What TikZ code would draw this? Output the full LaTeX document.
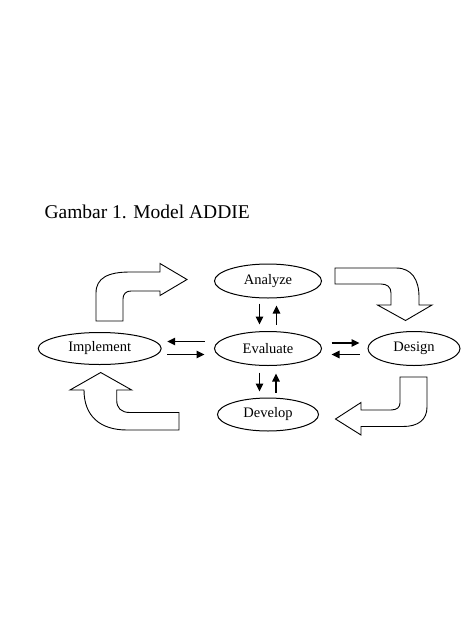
\documentclass[tikz,border=0pt]{standalone}
\usepackage{fontspec}
\setmainfont{Liberation Serif}
\usetikzlibrary{shapes.geometric,arrows.meta}
\begin{document}
\begin{tikzpicture}[x=1pt, y=-1pt,
		phase/.style={draw, ellipse, line width=1pt, inner sep=0pt, minimum height=34pt, font=\fontsize{14.5}{16}\selectfont},
		pair/.style={line width=1.4pt, -{Triangle[length=8pt, width=7.5pt]}},
		block/.style={draw, line width=0.9pt, line join=miter}]
		\useasboundingbox (0,0) rectangle (474,632);
		\node[anchor=base west, font=\fontsize{19.5}{22}\selectfont] (Title) at (41,218) {Gambar 1. Model ADDIE};
		\node[phase, minimum width=107pt] (Analyze) at (268,281) {Analyze};
		\node[phase, minimum width=107pt] (Evaluate) at (268,348.5) {Evaluate};
		\node[phase, minimum width=123pt, minimum height=32pt] (Implement) at (99.7,348.5) {Implement};
		\node[phase, minimum width=92pt] (Design) at (414,348.5) {Design};
		\node[phase, minimum width=101pt, minimum height=33pt] (Develop) at (268,414.5) {Develop};
		% Arrows
		\draw[pair, shorten <=5pt, shorten >=6.5pt] ([xshift=-8.5pt]Analyze.south) -- ([xshift=-8.5pt]Evaluate.north);
		\draw[pair, shorten <=6.5pt, shorten >=7pt] ([xshift=8.5pt]Evaluate.north) -- ([xshift=8.5pt]Analyze.south);
		\draw[pair, shorten <=6.5pt, shorten >=6pt] ([xshift=-8.5pt]Evaluate.south) -- ([xshift=-8.5pt]Develop.north);
		\draw[pair, shorten <=5pt, shorten >=7.5pt] ([xshift=8pt]Develop.north) -- ([xshift=8pt]Evaluate.south);
		\draw[pair, shorten <=9.5pt, shorten >=5.5pt] ([yshift=7pt]Evaluate.west) -- ([yshift=7pt]Implement.east);
		\draw[pair, shorten <=5.5pt, shorten >=9.5pt] ([yshift=-6pt]Implement.east) -- ([yshift=-6pt]Evaluate.west);
		\draw[pair, shorten <=9.5pt, shorten >=8pt] ([yshift=5.5pt]Evaluate.east) -- ([yshift=5.5pt]Design.west);
		\draw[pair, shorten <=8pt, shorten >=9.5pt] ([yshift=-6pt]Design.west) -- ([yshift=-6pt]Evaluate.east);
		% Block arrows
		\draw[block] (96,321) -- (96,293) .. controls (96,278) and (108,272) .. (130,272) -- (160,272) -- (160,263.5)
			-- (187,279.5) -- (160,295.5) -- (160,291) -- (131,291) .. controls (126,291) and (123,294) .. (123,299) -- (123,321) -- cycle;
		\draw[block] (335,268) -- (396,268) .. controls (412,268) and (419,280) .. (419,297) -- (419,305) -- (432,305)
			-- (405.5,320.5) -- (377.5,305) -- (391,305) -- (391,293) .. controls (391,287) and (387,284) .. (381,284) -- (335,284) -- cycle;
		\draw[block] (400,377) -- (427,377) -- (427,407) .. controls (427,420) and (418,426.5) .. (403,426.5) -- (361,426.5) -- (361,435)
			-- (335.5,419) -- (361,402.5) -- (361,410) -- (391,410) .. controls (397,410) and (400,407) .. (400,403) -- cycle;
		\draw[block] (179,412.5) -- (179,430) -- (127,430) .. controls (100,430) and (84,416) .. (84,390) -- (70,390)
			-- (100.7,372.5) -- (131.7,390) -- (116.7,390) -- (116.7,400) .. controls (116.7,408) and (121,412.5) .. (130,412.5) -- cycle;
	\end{tikzpicture}
\end{document}
